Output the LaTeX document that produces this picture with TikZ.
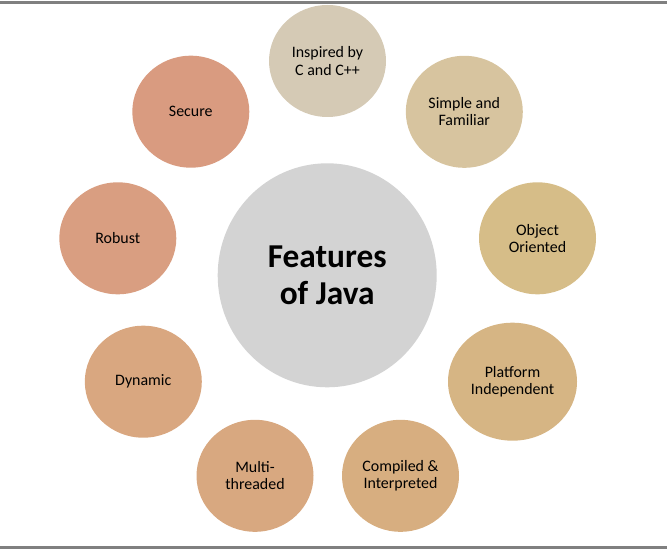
\documentclass[tikz,border=0pt]{standalone}
\usepackage{fontspec}
\setmainfont{Carlito}
\usetikzlibrary{shapes.geometric}
\definecolor{bargrey}{HTML}{808080}
\definecolor{hubgrey}{HTML}{D3D3D3}
\definecolor{cInspired}{HTML}{D5CAB5}
\definecolor{cSimple}{HTML}{D7C49F}
\definecolor{cObject}{HTML}{D6BD88}
\definecolor{cPlatform}{HTML}{D6B584}
\definecolor{cCompiled}{HTML}{D7AE80}
\definecolor{cMulti}{HTML}{D8A880}
\definecolor{cDynamic}{HTML}{D9A780}
\definecolor{cRobust}{HTML}{D99E81}
\definecolor{cSecure}{HTML}{D99B80}
\newcommand \myfeature[4]
{
\node[feature, fill=#3] (#1) at #2 {#4};
}

\begin{document}
\begin{tikzpicture}[x=1bp, y=-1bp,
  feature/.style={ellipse, inner sep=0pt, minimum width=117bp, minimum height=112bp,
    align=center, font=\fontsize{16}{17.5}\selectfont},
  hub/.style={ellipse, inner sep=0pt, fill=hubgrey, minimum width=219bp, minimum height=224bp,
    align=center, font=\fontsize{33.5}{38}\selectfont\bfseries}]
\useasboundingbox (0,0) rectangle (667,551);
\fill[bargrey] (0,1) rectangle (667,4);
\fill[bargrey] (0,545.5) rectangle (667,548.8);
\node[hub] (java) at (327.2,275.3) {Features\\of Java};
\myfeature{inspired}{(327.5,61)}{cInspired}{Inspired by\\C and C++}
\myfeature{simple}{(464.3,111.8)}{cSimple}{Simple and\\Familiar}
\myfeature{object}{(537.5,238.3)}{cObject}{Object\\Oriented}
\node[feature, fill=cPlatform, minimum width=129bp, minimum height=118bp] (platform) at (512.5,381.7) {Platform\\Independent};
\myfeature{compiled}{(400.5,475.8)}{cCompiled}{Compiled \&\\Interpreted}
\myfeature{multi}{(255,475.8)}{cMulti}{Multi-\\threaded}
\myfeature{dynamic}{(143.3,381.7)}{cDynamic}{Dynamic}
\myfeature{robust}{(117.8,238.3)}{cRobust}{Robust}
\myfeature{secure}{(190.8,111.7)}{cSecure}{Secure}
\end{tikzpicture}
\end{document}
